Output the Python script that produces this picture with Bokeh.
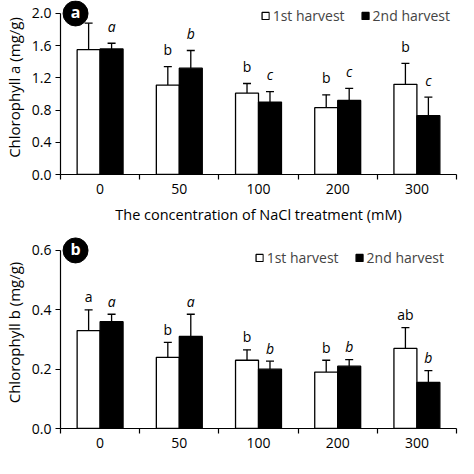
from bokeh.plotting import figure
from bokeh.models import (ColumnDataSource, Range1d, FixedTicker, PrintfTickFormatter,
                          Whisker, TeeHead, Legend, LegendItem)
from bokeh.layouts import column
from bokeh.core.properties import value
from bokeh.embed import file_html
from bokeh.resources import INLINE

FONT = "Open Sans"

nacl = ["0", "50", "100", "200", "300"]
series = ["1st harvest", "2nd harvest"]

# chlorophyll a (mg/g), means and SD
chl_a_1st = [1.55, 1.11, 1.01, 0.83, 1.12]
chl_a_1st_sd = [0.33, 0.23, 0.12, 0.16, 0.26]
chl_a_2nd = [1.56, 1.32, 0.90, 0.92, 0.73]
chl_a_2nd_sd = [0.07, 0.22, 0.13, 0.15, 0.23]
chl_a_1st_letters = ["", "b", "b", "b", "b"]
chl_a_2nd_letters = ["a", "b", "c", "c", "c"]
chl_a_ticks = [0.0, 0.4, 0.8, 1.2, 1.6, 2.0]

# chlorophyll b (mg/g)
chl_b_1st = [0.33, 0.24, 0.23, 0.19, 0.27]
chl_b_1st_sd = [0.07, 0.05, 0.035, 0.04, 0.07]
chl_b_2nd = [0.36, 0.31, 0.20, 0.21, 0.155]
chl_b_2nd_sd = [0.025, 0.075, 0.027, 0.022, 0.04]
chl_b_1st_letters = ["a", "b", "b", "b", "ab"]
chl_b_2nd_letters = ["a", "a", "b", "b", "b"]
chl_b_ticks = [0.0, 0.2, 0.4, 0.6]

XLABEL = "The concentration of NaCl treatment (mM)"


def panel(tag, ylabel, first, first_sd, second, second_sd, let1, let2, yticks,
          ytop, height, border_top, border_bottom, letter_off, legend_margin, xlabel=None):
    p = figure(width=458, height=height, x_range=Range1d(-0.5, 4.5), y_range=Range1d(0, ytop),
               output_backend="svg", toolbar_location=None,
               min_border_left=54, min_border_right=2,
               min_border_top=border_top, min_border_bottom=border_bottom)
    p.outline_line_color = None
    p.grid.visible = False

    pos = list(range(len(nacl)))
    bw = 0.29
    items = []
    for k, (vals, sd, lets, fill, style) in enumerate([
            (first, first_sd, let1, "white", "normal"),
            (second, second_sd, let2, "black", "italic")]):
        xs = [i + (k - 0.5) * bw for i in pos]
        src = ColumnDataSource(dict(x=xs, top=vals,
                                    upper=[v + s for v, s in zip(vals, sd)], lab=lets))
        r = p.vbar(x="x", top="top", width=bw, source=src, fill_color=fill,
                   line_color="black", line_width=1.3)
        p.add_layout(Whisker(source=src, base="x", lower="top", upper="upper",
                             line_width=1.3, line_color="black", lower_head=None,
                             upper_head=TeeHead(size=8, line_width=1.3, line_color="black")))
        p.text(x="x", y="upper", text="lab", source=src, text_align="center",
               text_baseline="middle", y_offset=-letter_off, text_color="black",
               text_font=value(FONT), text_font_size="14px", text_font_style=style)
        items.append(LegendItem(label=series[k], renderers=[r]))

    # panel badge
    bx = -0.5 + 0.19
    p.scatter(x=[bx], y=[yticks[-1]], size=25, marker="circle", color="black")
    p.text(x=[bx], y=[yticks[-1]], text=[tag], text_align="center", text_baseline="middle",
           y_offset=-1, text_color="white", text_font=value(FONT), text_font_size="16px",
           text_font_style="bold")

    leg = Legend(items=items, orientation="horizontal", location="top_right",
                 border_line_color=None, background_fill_alpha=0,
                 label_text_font=FONT, label_text_font_size="14px",
                 glyph_width=9, glyph_height=9, label_standoff=3, spacing=16,
                 padding=0, margin=legend_margin, label_height=14)
    p.add_layout(leg)

    xa = p.xaxis[0]
    xa.ticker = FixedTicker(ticks=pos, minor_ticks=[i - 0.5 for i in range(len(nacl) + 1)])
    xa.major_label_overrides = {i: c for i, c in enumerate(nacl)}
    xa.major_tick_line_color = None
    xa.major_tick_out = 5
    xa.minor_tick_out = 5
    xa.minor_tick_in = 0
    xa.minor_tick_line_color = "black"
    xa.major_label_standoff = 4
    xa.axis_label = xlabel
    xa.axis_label_standoff = 8

    ya = p.yaxis[0]
    ya.ticker = FixedTicker(ticks=yticks)
    ya.formatter = PrintfTickFormatter(format="%.1f")
    ya.bounds = (0, yticks[-1])
    ya.major_tick_out = 5
    ya.major_tick_in = 0
    ya.minor_tick_line_color = None
    ya.major_label_standoff = 4
    ya.axis_label = ylabel
    ya.axis_label_standoff = 5

    for ax in (xa, ya):
        ax.axis_line_color = "black"
        ax.axis_line_width = 1.2
        ax.minor_tick_line_width = 1.2
        ax.major_tick_line_width = 1.2
        ax.major_label_text_font = FONT
        ax.major_label_text_font_size = "14px"
        ax.major_label_text_color = "black"
        ax.axis_label_text_font = FONT
        ax.axis_label_text_font_size = "15px"
        ax.axis_label_text_font_style = "normal"
        ax.axis_label_text_color = "black"
    xa.axis_label_text_font_size = "14.5px"
    return p


p1 = panel("a", "Chlorophyll a (mg/g)", chl_a_1st, chl_a_1st_sd, chl_a_2nd, chl_a_2nd_sd,
           chl_a_1st_letters, chl_a_2nd_letters, chl_a_ticks, 2.161,
           height=231, border_top=0, border_bottom=57, letter_off=17, legend_margin=6,
           xlabel=XLABEL)
p2 = panel("b", "Chlorophyll b (mg/g)", chl_b_1st, chl_b_1st_sd, chl_b_2nd, chl_b_2nd_sd,
           chl_b_1st_letters, chl_b_2nd_letters, chl_b_ticks, 0.647,
           height=227, border_top=5, border_bottom=30, letter_off=13, legend_margin=12)

layout = column(p1, p2, spacing=0)
open("out.html", "w").write(file_html(layout, INLINE))
